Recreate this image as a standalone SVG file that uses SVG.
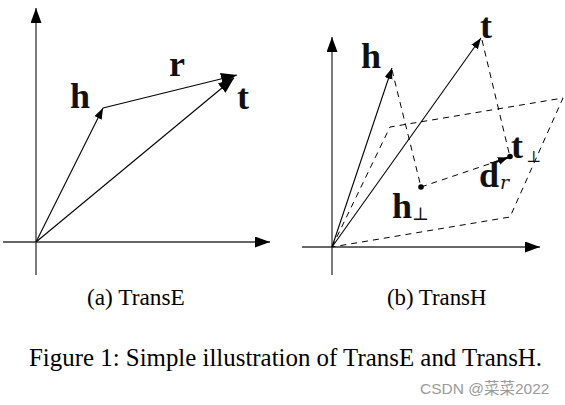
<svg xmlns="http://www.w3.org/2000/svg" width="565" height="405" viewBox="0 0 565 405">
<style>
.axis{stroke:#333;stroke-width:1.3;fill:none}
.vec{stroke:#000;stroke-width:1.1;fill:none}
.dash{stroke:#000;stroke-width:1;fill:none;stroke-dasharray:6 5}
.lbl{font-family:"Liberation Serif","DejaVu Serif",serif;font-weight:bold;font-size:36px;fill:#111}
.sub{font-family:"DejaVu Serif","Liberation Serif",serif;fill:#111}
.cap{font-family:"Liberation Serif","Times New Roman",serif;fill:#000}
.wm{font-family:"Liberation Sans","Noto Sans CJK SC",sans-serif;font-size:15.5px;fill:#9a9a9a}
</style>
<defs>
<marker id="axh" markerUnits="userSpaceOnUse" markerWidth="16" markerHeight="12" refX="15" refY="5.5" orient="auto"><path d="M0,0 L15,5.5 L0,11 z" fill="#000"/></marker>
<marker id="sm" markerUnits="userSpaceOnUse" markerWidth="12" markerHeight="9" refX="11" refY="4" orient="auto"><path d="M0,0 L11,4 L0,8 z" fill="#000"/></marker>
<marker id="big" markerUnits="userSpaceOnUse" markerWidth="17" markerHeight="13" refX="16" refY="6" orient="auto"><path d="M0,0 L16,6 L0,12 z" fill="#000"/></marker>
<marker id="dr" markerUnits="userSpaceOnUse" markerWidth="11" markerHeight="9" refX="10" refY="4" orient="auto"><path d="M0,0 L10,4 L0,8 z" fill="#000"/></marker>
</defs>

<g id="panel-a-axes">
<line class="axis" x1="36" y1="275" x2="36" y2="8" marker-end="url(#axh)"/>
<line class="axis" x1="3" y1="242" x2="270" y2="242" marker-end="url(#axh)"/>
</g>
<g id="connectors-a">
<line class="vec" x1="36" y1="242" x2="103" y2="108" marker-end="url(#sm)"/>
<line class="vec" x1="103" y1="108" x2="237" y2="75" marker-end="url(#big)"/>
<line class="vec" x1="36" y1="242" x2="234" y2="78" marker-end="url(#big)"/>
</g>
<g id="node-a-h"><text class="lbl" x="70" y="108">h</text></g>
<g id="node-a-r"><text class="lbl" x="169" y="76">r</text></g>
<g id="node-a-t"><text class="lbl" x="237" y="109">t</text></g>

<g id="panel-b-axes">
<line class="axis" x1="332" y1="275" x2="332" y2="37" marker-end="url(#axh)"/>
<line class="axis" x1="302" y1="247" x2="540" y2="247" marker-end="url(#axh)"/>
</g>
<g id="plane">
<path class="dash" d="M332,247 L390,127 L563,98 L510,217 Z"/>
</g>
<g id="connectors-b">
<line class="vec" x1="332" y1="247" x2="392" y2="68" marker-end="url(#sm)"/>
<line class="vec" x1="332" y1="247" x2="481" y2="38" marker-end="url(#sm)"/>
<line class="dash" x1="392" y1="70" x2="421" y2="187"/>
<line class="dash" x1="482" y1="40" x2="510" y2="157"/>
<line class="dash" x1="421" y1="187" x2="495" y2="162"/>
<line stroke="#000" stroke-width="2.2" x1="493" y1="163" x2="508" y2="157.5" marker-end="url(#dr)"/>
</g>
<g id="node-b-h"><text class="lbl" x="361" y="68">h</text></g>
<g id="node-b-t"><text class="lbl" x="480" y="38">t</text></g>
<g id="node-hperp">
<circle cx="421" cy="187" r="2.8" fill="#000"/>
<text class="lbl" x="392" y="218">h</text>
<text class="sub" x="412" y="220" font-size="18">⊥</text>
</g>
<g id="node-tperp">
<circle cx="510" cy="156.5" r="2.8" fill="#000"/>
<text class="lbl" x="511" y="158">t</text>
<text class="sub" x="526" y="162" font-size="16">⊥</text>
</g>
<g id="node-dr">
<text class="lbl" x="479" y="187">d</text>
<text class="sub" x="500" y="189" font-size="19" font-style="italic" font-family="Liberation Serif, serif">r</text>
</g>

<g id="captions">
<text class="cap" x="87" y="305" font-size="23.3">(a) TransE</text>
<text class="cap" x="387" y="305" font-size="22.8">(b) TransH</text>
<text class="cap" x="29" y="366" font-size="24.9">Figure 1: Simple illustration of TransE and TransH.</text>
<text class="wm" x="420" y="394">CSDN @菜菜2022</text>
</g>
</svg>
